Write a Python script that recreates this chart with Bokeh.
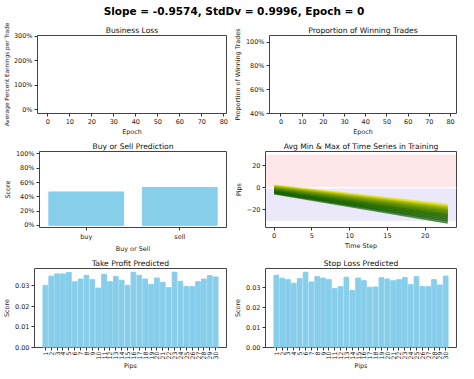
import math
from bokeh.plotting import figure
from bokeh.layouts import column, row
from bokeh.models import (Div, FixedTicker, NumeralTickFormatter, BoxAnnotation, Span,
                          Range1d, FactorRange, ColumnDataSource)
from bokeh.embed import file_html
from bokeh.resources import INLINE

# ---------------- data ----------------
suptitle = "Slope = -0.9574, StdDv = 0.9996, Epoch = 0"

epochs = []
business_loss = []
winning_prop = []
epoch_ticks = [0, 10, 20, 30, 40, 50, 60, 70, 80]

buy_sell = ["buy", "sell"]
buy_sell_scores = [0.468, 0.532]

time_steps = [0, 23]
series_start = [1.5, 1.0, 0.5, 0.0, -0.5, -1.0, -1.5, -2.0, -2.5, -3.0, -3.5, -4.0, -4.5, -5.0]
series_end = [-16.0, -17.5, -18.5, -19.5, -20.5, -21.5, -22.5, -23.5, -24.5, -25.5, -26.5, -28.0, -29.5, -31.5]
profit_zone = [0, 30]
loss_zone = [-30, 0]

pips = [str(i) for i in range(1, 31)]
take_profit = [0.0303, 0.0348, 0.0359, 0.0359, 0.0366, 0.0321, 0.0334, 0.0352, 0.0331, 0.0290,
               0.0357, 0.0321, 0.0346, 0.0328, 0.0303, 0.0367, 0.0352, 0.0334, 0.0308, 0.0339,
               0.0318, 0.0292, 0.0367, 0.0323, 0.0297, 0.0297, 0.0321, 0.0334, 0.0351, 0.0344]
stop_loss = [0.0362, 0.0347, 0.0340, 0.0322, 0.0345, 0.0377, 0.0328, 0.0355, 0.0348, 0.0340,
             0.0295, 0.0305, 0.0352, 0.0285, 0.0348, 0.0335, 0.0302, 0.0303, 0.0350, 0.0343,
             0.0335, 0.0340, 0.0350, 0.0315, 0.0355, 0.0305, 0.0305, 0.0340, 0.0313, 0.0358]

# ---------------- style ----------------
FONT = "DejaVu Sans"
BAR = "#87ceeb"
LINE_PALETTE = ["#e8e000", "#c8d000", "#a8bc00", "#8cac00", "#789e00", "#689400", "#5a8c00",
                "#4c8400", "#407c00", "#347400", "#2a6e00", "#206800", "#186400", "#106000"]
COLW = [230, 228]
ROWH = [116, 117, 118]
BORDER_L = [34, 35]
BORDER_R = [4, 2]
BORDER_T = [10, 12, 12]
BORDER_B = [22, 22, 22]


def make_fig(r, c, title, x_range, y_range):
    p = figure(width=COLW[c], height=ROWH[r], x_range=x_range, y_range=y_range,
               output_backend="svg", toolbar_location=None, title=title,
               min_border_left=BORDER_L[c], min_border_right=BORDER_R[c],
               min_border_top=BORDER_T[r], min_border_bottom=BORDER_B[r])
    p.title.text_font = FONT
    p.title.text_font_size = "7.6px"
    p.title.text_font_style = "normal"
    p.title.align = "center"
    p.title.text_color = "#111111"
    p.title.offset = 0
    p.title.standoff = 2
    for ax in p.axis:
        ax.axis_line_color = None
        ax.major_tick_line_color = "#333333"
        ax.major_tick_out = 3
        ax.major_tick_in = 0
        ax.minor_tick_line_color = None
        ax.major_label_text_font = FONT
        ax.major_label_text_font_size = "6.5px"
        ax.major_label_text_color = "#222222"
        ax.axis_label_text_font = FONT
        ax.axis_label_text_font_size = "6.4px"
        ax.axis_label_text_font_style = "normal"
        ax.axis_label_text_color = "#222222"
        ax.major_label_standoff = 2
        ax.axis_label_standoff = 1
    p.xgrid.visible = False
    p.ygrid.visible = False
    p.outline_line_color = "#444444"
    p.outline_line_width = 1
    p.background_fill_color = "white"
    p.border_fill_color = "white"
    return p


# Row 1 left: Business Loss
p1 = make_fig(0, 0, "Business Loss", Range1d(-4.7, 81.2), Range1d(-0.16, 3.04))
p1.line(epochs, business_loss, color="#1f77b4")
p1.xaxis.ticker = FixedTicker(ticks=epoch_ticks)
p1.yaxis.ticker = FixedTicker(ticks=[0, 1, 2, 3])
p1.yaxis.formatter = NumeralTickFormatter(format="0%")
p1.xaxis.axis_label = "Epoch"
p1.yaxis.axis_label = "Average Percent Earnings per Trade"
p1.yaxis.axis_label_text_font_size = "5.8px"

# Row 1 right: Proportion of Winning Trades
p2 = make_fig(0, 1, "Proportion of Winning Trades", Range1d(-5.4, 82.8), Range1d(0.4, 1.055))
p2.line(epochs, winning_prop, color="#1f77b4")
p2.xaxis.ticker = FixedTicker(ticks=epoch_ticks)
p2.yaxis.ticker = FixedTicker(ticks=[0.4, 0.6, 0.8, 1.0])
p2.yaxis.formatter = NumeralTickFormatter(format="0%")
p2.xaxis.axis_label = "Epoch"
p2.yaxis.axis_label = "Proportion of Winning Trades"

# Row 2 left: Buy or Sell
p3 = make_fig(1, 0, "Buy or Sell Prediction", FactorRange(factors=buy_sell), Range1d(-0.03, 1.035))
p3.vbar(x=buy_sell, top=buy_sell_scores, width=0.8, color=BAR)
p3.yaxis.ticker = FixedTicker(ticks=[0, 0.2, 0.4, 0.6, 0.8, 1.0])
p3.yaxis.formatter = NumeralTickFormatter(format="0%")
p3.xaxis.axis_label = "Buy or Sell"
p3.yaxis.axis_label = "Score"

# Row 2 right: Time series
p4 = make_fig(1, 1, "Avg Min & Max of Time Series in Training", Range1d(-1.15, 24.15), Range1d(-36.2, 32.8))
p4.add_layout(BoxAnnotation(bottom=profit_zone[0], top=profit_zone[1], fill_color="#e8102a",
                            fill_alpha=0.1, line_color=None, level="underlay"))
p4.add_layout(BoxAnnotation(bottom=loss_zone[0], top=loss_zone[1], fill_color="#3020c0",
                            fill_alpha=0.1, line_color=None, level="underlay"))
p4.add_layout(Span(location=0, dimension="width", line_color="white", line_width=1.5, level="underlay"))
n = len(series_start)
src = ColumnDataSource(dict(xs=[time_steps] * n,
                            ys=[[s, e] for s, e in zip(series_start, series_end)],
                            color=LINE_PALETTE[:n]))
p4.multi_line(xs="xs", ys="ys", line_color="color", line_width=3, line_alpha=0.7, source=src)
p4.xaxis.ticker = FixedTicker(ticks=[0, 5, 10, 15, 20])
p4.yaxis.ticker = FixedTicker(ticks=[-20, 0, 20])
p4.xaxis.axis_label = "Time Step"
p4.yaxis.axis_label = "Pips"

# Row 3 left: Take Profit
p5 = make_fig(2, 0, "Take Profit Predicted", FactorRange(factors=pips, range_padding=0.09),
              Range1d(0, max(take_profit) * 1.05))
p5.vbar(x=pips, top=take_profit, width=0.8, color=BAR)
p5.yaxis.ticker = FixedTicker(ticks=[0, 0.01, 0.02, 0.03])
p5.yaxis.formatter = NumeralTickFormatter(format="0.00")
p5.xaxis.major_label_orientation = math.pi / 2
p5.xaxis.major_label_text_font_size = "6.2px"
p5.xaxis.major_label_standoff = 1
p5.xaxis.axis_label_standoff = 0
p5.xaxis.axis_label = "Pips"
p5.yaxis.axis_label = "Score"

# Row 3 right: Stop Loss
p6 = make_fig(2, 1, "Stop Loss Predicted", FactorRange(factors=pips, range_padding=0.09),
              Range1d(0, max(stop_loss) * 1.05))
p6.vbar(x=pips, top=stop_loss, width=0.8, color=BAR)
p6.yaxis.ticker = FixedTicker(ticks=[0, 0.01, 0.02, 0.03])
p6.yaxis.formatter = NumeralTickFormatter(format="0.00")
p6.xaxis.major_label_orientation = math.pi / 2
p6.xaxis.major_label_text_font_size = "6.2px"
p6.xaxis.major_label_standoff = 1
p6.xaxis.axis_label_standoff = 0
p6.xaxis.axis_label = "Pips"
p6.yaxis.axis_label = "Score"

title_div = Div(text=suptitle, width=458, height=12,
                styles={"font-family": FONT, "font-weight": "bold", "font-size": "10.5px",
                        "text-align": "center", "line-height": "12px", "color": "#000000"})

layout = column(title_div,
                row(p1, p2, spacing=0),
                row(p3, p4, spacing=0),
                row(p5, p6, spacing=0),
                spacing=0)

open("out.html", "w").write(file_html(layout, INLINE))
